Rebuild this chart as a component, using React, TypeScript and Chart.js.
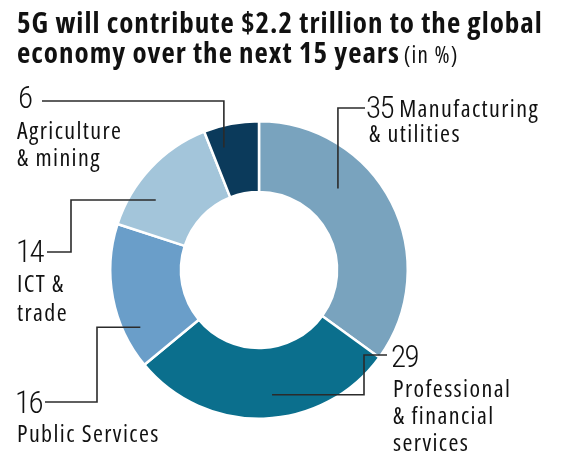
import React, { useEffect, useRef } from "react";
import { Chart, registerables } from "chart.js";
Chart.register(...registerables);

const categories = [
  "Manufacturing & utilities",
  "Professional & financial services",
  "Public Services",
  "ICT & trade",
  "Agriculture & mining",
];
const shares = [35, 29, 16, 14, 6];
const colors = ["#79a3be", "#0b6f8d", "#6a9ec9", "#a3c5da", "#0b3a5b"];
const labelLines = [
  ["Manufacturing", "& utilities"],
  ["Professional", "& financial", "services"],
  ["Public Services"],
  ["ICT &", "trade"],
  ["Agriculture", "& mining"],
];
const titleBold = ["5G will contribute $2.2 trillion to the global", "economy over the next 15 years"];
const titleNote = "(in %)";

// Leader layout, offsets from the doughnut centre (pixels)
type Leader = {
  t: number;
  r: number;
  first: "h" | "v";
  elbows: number[][];
  num: number[];
  textX: number;
  textY: number[];
  inline?: boolean;
};
const leaders: Leader[] = [
  { t: 0.35, r: 0.5, first: "v", elbows: [[0, -162], [106, -162]], num: [107, -152], textX: 110, textY: [-153, -128], inline: true },
  { t: 0.46, r: 0.67, first: "h", elbows: [[105, 0], [105, 85], [128, 85]], num: [132, 97], textX: 134, textY: [127, 154, 181] },
  { t: 0.24, r: 0.76, first: "h", elbows: [[-162, 0], [-162, 132], [-214, 132]], num: [-244, 143], textX: -242, textY: [172] },
  { t: 0.32, r: 0.66, first: "h", elbows: [[-188, 0], [-188, -18], [-212, -18]], num: [-243, -8], textX: -242, textY: [22, 51] },
  { t: 0.26, r: 0.7, first: "v", elbows: [[0, -169], [-217, -169]], num: [-241, -162], textX: -242, textY: [-131, -104] },
];

type Font = [string, string, string];
const NUM_FONT: Font = ["300 31px Roboto, sans-serif", "condensed", "-1.5px"];
const LABEL_FONT: Font = ["24px 'Open Sans', sans-serif", "condensed", "1.4px"];
const TITLE_FONT: Font = ["bold 29px 'Open Sans', sans-serif", "condensed", "1px"];
const NOTE_FONT: Font = ["23px 'Open Sans', sans-serif", "condensed", "1.2px"];

function setFont(ctx: any, f: Font) {
  ctx.font = f[0];
  ctx.fontStretch = f[1];
  ctx.letterSpacing = f[2];
}

const overlay = {
  id: "overlay",
  afterDraw(chart: any) {
    const ctx = chart.ctx as CanvasRenderingContext2D;
    const meta = chart.getDatasetMeta(0);
    ctx.save();
    ctx.fillStyle = "#111";
    ctx.textBaseline = "alphabetic";
    setFont(ctx, TITLE_FONT);
    ctx.fillText(titleBold[0], 17, 33);
    ctx.fillText(titleBold[1], 17, 63);
    const w = ctx.measureText(titleBold[1]).width;
    setFont(ctx, NOTE_FONT);
    ctx.fillText(titleNote, 17 + w + 4, 63);

    meta.data.forEach((arc: any, i: number) => {
      const L = leaders[i];
      const p = arc.getProps(["x", "y", "startAngle", "endAngle", "innerRadius", "outerRadius"], true);
      const cx = p.x, cy = p.y;
      const ang = p.startAngle + (p.endAngle - p.startAngle) * L.t;
      const rad = p.innerRadius + (p.outerRadius - p.innerRadius) * L.r;
      const ax = cx + Math.cos(ang) * rad;
      const ay = cy + Math.sin(ang) * rad;
      ctx.strokeStyle = "#2b2b2b";
      ctx.lineWidth = 1.6;
      ctx.beginPath();
      ctx.moveTo(ax, ay);
      L.elbows.forEach((e, k) => {
        let x = cx + e[0];
        let y = cy + e[1];
        if (k === 0) {
          if (L.first === "v") x = ax;
          else y = ay;
        }
        ctx.lineTo(x, y);
      });
      ctx.stroke();
      ctx.fillStyle = "#111";
      setFont(ctx, NUM_FONT);
      const numStr = String(shares[i]);
      ctx.fillText(numStr, cx + L.num[0], cy + L.num[1]);
      const nw = ctx.measureText(numStr).width;
      setFont(ctx, LABEL_FONT);
      labelLines[i].forEach((line, k) => {
        let x = cx + L.textX;
        if (L.inline && k === 0) x = cx + L.num[0] + nw + 6;
        ctx.fillText(line, x, cy + L.textY[k]);
      });
    });
    ctx.restore();
  },
};

export default function App() {
  const ref = useRef<HTMLCanvasElement>(null);
  useEffect(() => {
    if (!ref.current) return;
    const chart = new Chart(ref.current, {
      type: "doughnut",
      data: {
        labels: categories,
        datasets: [
          {
            data: shares,
            backgroundColor: colors,
            borderColor: "#ffffff",
            borderWidth: 2.5,
          },
        ],
      },
      options: {
        animation: false,
        responsive: false,
        cutout: "52.5%",
        layout: { padding: { left: 109, right: 153, top: 120, bottom: 44 } },
        plugins: { legend: { display: false }, tooltip: { enabled: false }, title: { display: false } },
      },
      plugins: [overlay],
    });
    return () => chart.destroy();
  }, []);
  return (
    <div style={{ position: "fixed", left: 0, top: 0, width: 562, height: 464, background: "#fff" }}>
      <canvas ref={ref} width={562} height={464} style={{ width: 562, height: 464 }} />
    </div>
  );
}
